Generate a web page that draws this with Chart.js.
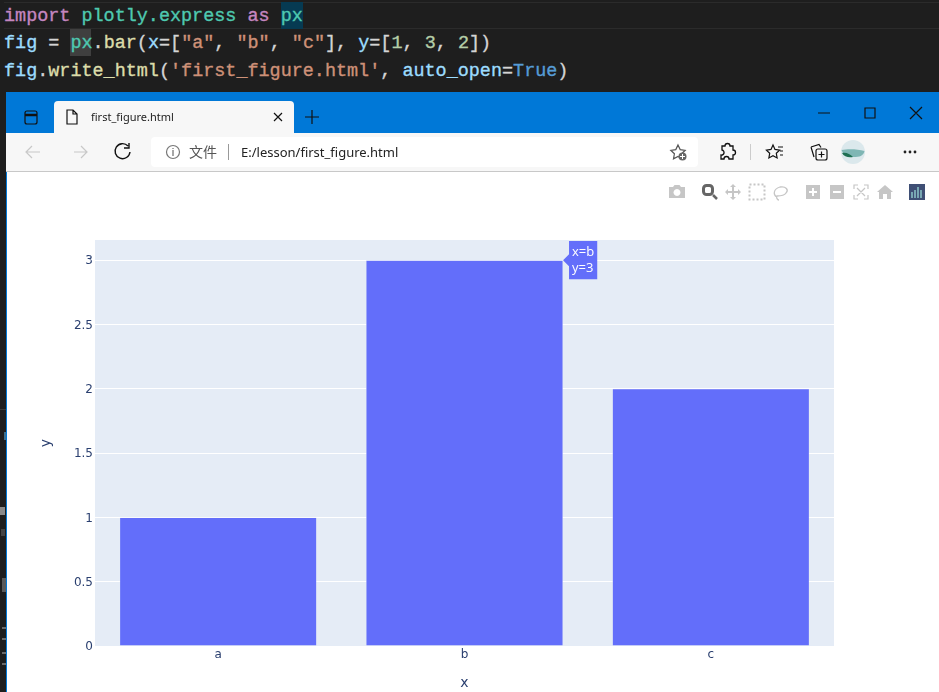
<!DOCTYPE html>
<html>
<head>
<meta charset="utf-8">
<title>first_figure.html</title>
<script src="https://cdn.jsdelivr.net/npm/chart.js@4"></script>
<style>
  html, body { margin: 0; padding: 0; background: #1e1e1e; }
  #stage { position: relative; width: 939px; height: 692px; overflow: hidden; }
  #stage div, #stage canvas, #stage svg { position: absolute; }
  .code { left: 4px; font: 18.45px/28px "Liberation Mono", monospace; color: #d4d4d4; white-space: pre; -webkit-text-stroke: 0.35px currentColor; }
  .kw { color: #c586c0; } .mod { color: #4ec9b0; } .fn { color: #dcdcaa; } .var { color: #9cdcfe; }
  .str { color: #ce9178; } .num { color: #b5cea8; } .con { color: #569cd6; }
  #page { left: 7px; top: 172px; width: 932px; height: 520px; background: #fff; }
  #chart { left: 7px; top: 172px; }
  svg text { font-family: "Noto Sans", "Open Sans", sans-serif; }
</style>
</head>
<body>
<div id="stage">
  <div style="left:4px;top:2px;width:935px;height:1px;background:#2b2b2b"></div>
  <div style="left:4px;top:28px;width:935px;height:1px;background:#2b2b2b"></div>
  <div style="left:281px;top:2px;width:22px;height:27px;background:#063a52"></div>
  <div style="left:70px;top:29px;width:21px;height:27px;background:#3f3f3f"></div>
  <div class="code" style="top:3px"><span class="kw">import</span> <span class="mod">plotly.express</span> <span class="kw">as</span> <span class="mod">px</span></div>
  <div class="code" style="top:30px"><span class="var">fig</span> = <span class="mod">px</span>.<span class="fn">bar</span>(<span class="var">x</span>=[<span class="str">"a"</span>, <span class="str">"b"</span>, <span class="str">"c"</span>], <span class="var">y</span>=[<span class="num">1</span>, <span class="num">3</span>, <span class="num">2</span>])</div>
  <div class="code" style="top:58px"><span class="var">fig</span>.<span class="fn">write_html</span>(<span class="str">'first_figure.html'</span>, <span class="var">auto_open</span>=<span class="con">True</span>)</div>

  <div style="left:6px;top:92px;width:933px;height:41px;background:#0078d7"></div>
  <div style="left:6px;top:133px;width:933px;height:38px;background:#f7f7f7"></div>
  <div style="left:6px;top:171px;width:933px;height:1px;background:#c8c8c8"></div>
  <div style="left:6px;top:172px;width:1px;height:520px;background:#0078d7"></div>
  <div style="left:54px;top:101px;width:240px;height:32px;background:#f7f7f7;border-radius:4px 4px 0 0"></div>
  <div style="left:151px;top:137px;width:547px;height:30px;background:#fff;border-radius:4px"></div>
  <div id="page"></div>

  <div style="left:0;top:409px;width:6px;height:1px;background:#3a3a3a"></div>
  <div style="left:4px;top:432px;width:2px;height:8px;background:#3d6f8f"></div>
  <div style="left:0;top:507px;width:5px;height:8px;background:#8a8a8a"></div>
  <div style="left:1px;top:529px;width:4px;height:7px;background:#444"></div>
  <div style="left:2px;top:578px;width:4px;height:14px;background:#5a5a5a"></div>
  <div style="left:2px;top:627px;width:4px;height:2px;background:#6a6a6a"></div>
  <div style="left:2px;top:638px;width:4px;height:2px;background:#6a6a6a"></div>
  <div style="left:2px;top:652px;width:4px;height:2px;background:#6a6a6a"></div>
  <div style="left:2px;top:663px;width:4px;height:2px;background:#6a6a6a"></div>

  <canvas id="chart" width="932" height="520"></canvas>

  <svg width="939" height="692" style="left:0;top:0;pointer-events:none">
    <!-- window chrome -->
    <g fill="none" stroke="#111" stroke-width="1.2">
      <rect x="25" y="111" width="12" height="13" rx="2"/><path d="M25 115h12" stroke-width="2.5"/>
      <path d="M67 110h6l4 4v10h-10z M73 110v4h4"/>
      <path d="M274 113l8 8M282 113l-8 8"/>
      <path d="M305 117h14M312 110v14"/>
      <path d="M818 113h12M865 108h10v10h-10z M910 107l12 12M922 107l-12 12"/>
      <path d="M128 146a7.5 7.5 0 1 0 2 6M129 143v5h-5" stroke-width="1.4"/>
      <path d="M678 145l2.2 4.6 5 .7-3.6 3.500.9 5-4.500-2.400-4.500 2.400.9-5-3.600-3.500 5-.7z" stroke="#555"/>
      <path d="M722 146h3a2.500 2.500 0 0 1 5 0h3v4a2.500 2.500 0 0 1 0 5v4h-4a2.500 2.500 0 0 0-5 0h-3v-4a2.500 2.500 0 0 0 1-5z" stroke-width="1.3"/>
      <path d="M773 145l2 4.400 4.600.7-3.300 3.200.8 4.700-4.100-2.200-4.100 2.200.8-4.700-3.300-3.200 4.600-.7zM778 147h5M780 151h3M780 155h3"/>
      <path d="M811 147l8-2.500 2 3M811 147l3 10"/><rect x="816" y="149" width="11" height="11" rx="2"/><path d="M821.500 151.500v6M818.500 154.500h6"/>
    </g>
    <circle cx="682.500" cy="156.500" r="4" fill="#666"/><path d="M680 156.500h5M682.500 154v5" stroke="#fff"/>
    <path d="M750.500 144v16" stroke="#ccc"/>
    <path d="M40 152H27M32 146l-6 6 6 6M74 152h13M81 146l6 6-6 6" fill="none" stroke="#c8c8c8" stroke-width="1.2"/>
    <circle cx="173" cy="152" r="6.500" fill="none" stroke="#777" stroke-width="1.2"/><path d="M173 150v6M173 148v1" stroke="#777" stroke-width="1.3"/>
    <path d="M228.500 144v16" stroke="#999"/>
    <circle cx="853" cy="152" r="12" fill="#dbe8ec"/><path d="M841.500 150c6-1 16-1 23 1-1 5-5 6-11 6s-10-2-12-7z" fill="#7fb6b4"/><path d="M842 153c4-1 8 1 11 4-4 1-9 0-11-4z" fill="#1e6f52"/>
    <g fill="#222"><circle cx="905" cy="152" r="1.400"/><circle cx="910" cy="152" r="1.400"/><circle cx="915" cy="152" r="1.400"/></g>
    <text x="91" y="121" font-size="11" fill="#222">first_figure.html</text>
    <text x="189" y="157" font-size="14" fill="#555" style="font-family:'Noto Sans CJK SC'">文件</text>
    <text x="241" y="157" font-size="13" fill="#222">E:/lesson/first_figure.html</text>

    <!-- plotly mode bar -->
    <g fill="#c6c6c6" stroke="none">
      <path d="M669 187h4l1.500-2h5l1.500 2h4v11h-16zM677 189a3.500 3.500 0 1 0 .01 0z" fill-rule="evenodd"/>
      <path d="M806 185h14v14h-14zM812 188v3h-3v2h3v3h2v-3h3v-2h-3v-3z" fill-rule="evenodd"/>
      <path d="M830 185h14v14h-14zM833 191v2h8v-2z" fill-rule="evenodd"/>
      <path d="M885 185l8 7h-2v7h-4v-5h-4v5h-4v-7h-2z"/>
      <path d="M733 184l3 3h-2v4h4v-2l3 3-3 3v-2h-4v4h2l-3 3-3-3h2v-4h-4v2l-3-3 3-3v2h4v-4h-2z"/>
    </g>
    <rect x="703.500" y="185.500" width="9" height="9" rx="3" fill="none" stroke="#666" stroke-width="3"/><path d="M713 195l4 4" stroke="#666" stroke-width="2.5"/>
    <rect x="749.500" y="184.500" width="15" height="15" fill="none" stroke="#c6c6c6" stroke-width="2" stroke-dasharray="2 2"/>
    <path d="M777 197c-4-2-4-8 3-10 6-1 9 3 6 6-2 3-7 3-9 3-1 1 0 4 2 4" fill="none" stroke="#c6c6c6" stroke-width="1.300"/>
    <path d="M854 189v-4h4M864 185h4v4M868 195v4h-4M858 199h-4v-4M857 188l8 8M865 188l-8 8" fill="none" stroke="#c6c6c6" stroke-width="1.200"/>
    <rect x="909" y="184" width="16" height="16" fill="#3f4f75"/>
    <path d="M912 192v6M915 190v8M918 187v11M921 190v8" stroke="#9fe3dc" stroke-width="1.200"/>
  </svg>
</div>

<script>
const categories = ["a", "b", "c"];
const values = [1, 3, 2];
const yTickLabels = ["0", "0.5", "1", "1.5", "2", "2.5", "3"];
const yMax = 3.157;
const hoverIndex = 1;

const plotFont = { family: '"DejaVu Sans", verdana, arial, sans-serif', size: 12 };
const titleFont = { family: plotFont.family, size: 14 };
const inkColor = "#2a3f6f";

// plotly puts the hover label on the edge of the bar, not its centre
Chart.Tooltip.positioners.barEdge = function (items) {
  const bar = items[0].element;
  return { x: bar.x + bar.width / 2, y: bar.y };
};

const plotBackground = {
  id: "plotBackground",
  beforeDraw(chart) {
    const area = chart.chartArea;
    chart.ctx.fillStyle = "#e5ecf6";
    chart.ctx.fillRect(area.left, area.top, area.width, area.height);
  }
};

const ctx = document.getElementById("chart").getContext("2d");
const myChart = new Chart(ctx, {
  type: "bar",
  plugins: [plotBackground],
  data: {
    labels: categories,
    datasets: [{
      data: values,
      backgroundColor: "#636efa",
      hoverBackgroundColor: "#636efa",
      borderColor: "#e5ecf6",
      borderWidth: 0.5,
      barPercentage: 0.8,
      categoryPercentage: 1
    }]
  },
  options: {
    responsive: false,
    animation: false,
    events: [],
    layout: { padding: { left: 31, right: 105, top: 68, bottom: 0 } },
    plugins: {
      legend: { display: false },
      title: { display: false },
      tooltip: {
        position: "barEdge",
        xAlign: "left",
        yAlign: "center",
        backgroundColor: "#636efa",
        cornerRadius: 0,
        caretSize: 6,
        caretPadding: 0,
        displayColors: false,
        padding: { left: 3, right: 3, top: 3, bottom: 3 },
        bodyFont: { family: '"Open Sans", verdana, arial, sans-serif', size: 13 },
        bodyColor: "#fff",
        bodySpacing: 1,
        callbacks: {
          title: () => "",
          label: item => ["x=" + item.label, "y=" + item.raw]
        }
      }
    },
    scales: {
      x: {
        grid: { display: false, drawTicks: false },
        border: { display: false },
        ticks: { color: inkColor, font: plotFont, padding: 2, maxRotation: 0 },
        title: { display: true, text: "x", color: inkColor, font: titleFont, padding: { top: 0, bottom: 0 } },
        afterFit(scale) { scale.height = 46; }
      },
      y: {
        min: 0,
        max: yMax,
        grid: { color: "#fff", lineWidth: 1, drawTicks: false },
        border: { display: false },
        ticks: {
          stepSize: 0.5,
          includeBounds: false,
          labelOffset: 1,
          color: inkColor,
          font: plotFont,
          padding: 2,
          callback: (value, i) => yTickLabels[i]
        },
        title: { display: true, text: "y", color: inkColor, font: titleFont, padding: { top: 0, bottom: 0 } },
        afterFit(scale) { scale.width = 57; }
      }
    }
  }
});

myChart.tooltip.setActiveElements([{ datasetIndex: 0, index: hoverIndex }], { x: 0, y: 0 });
myChart.draw();
</script>
</body>
</html>
